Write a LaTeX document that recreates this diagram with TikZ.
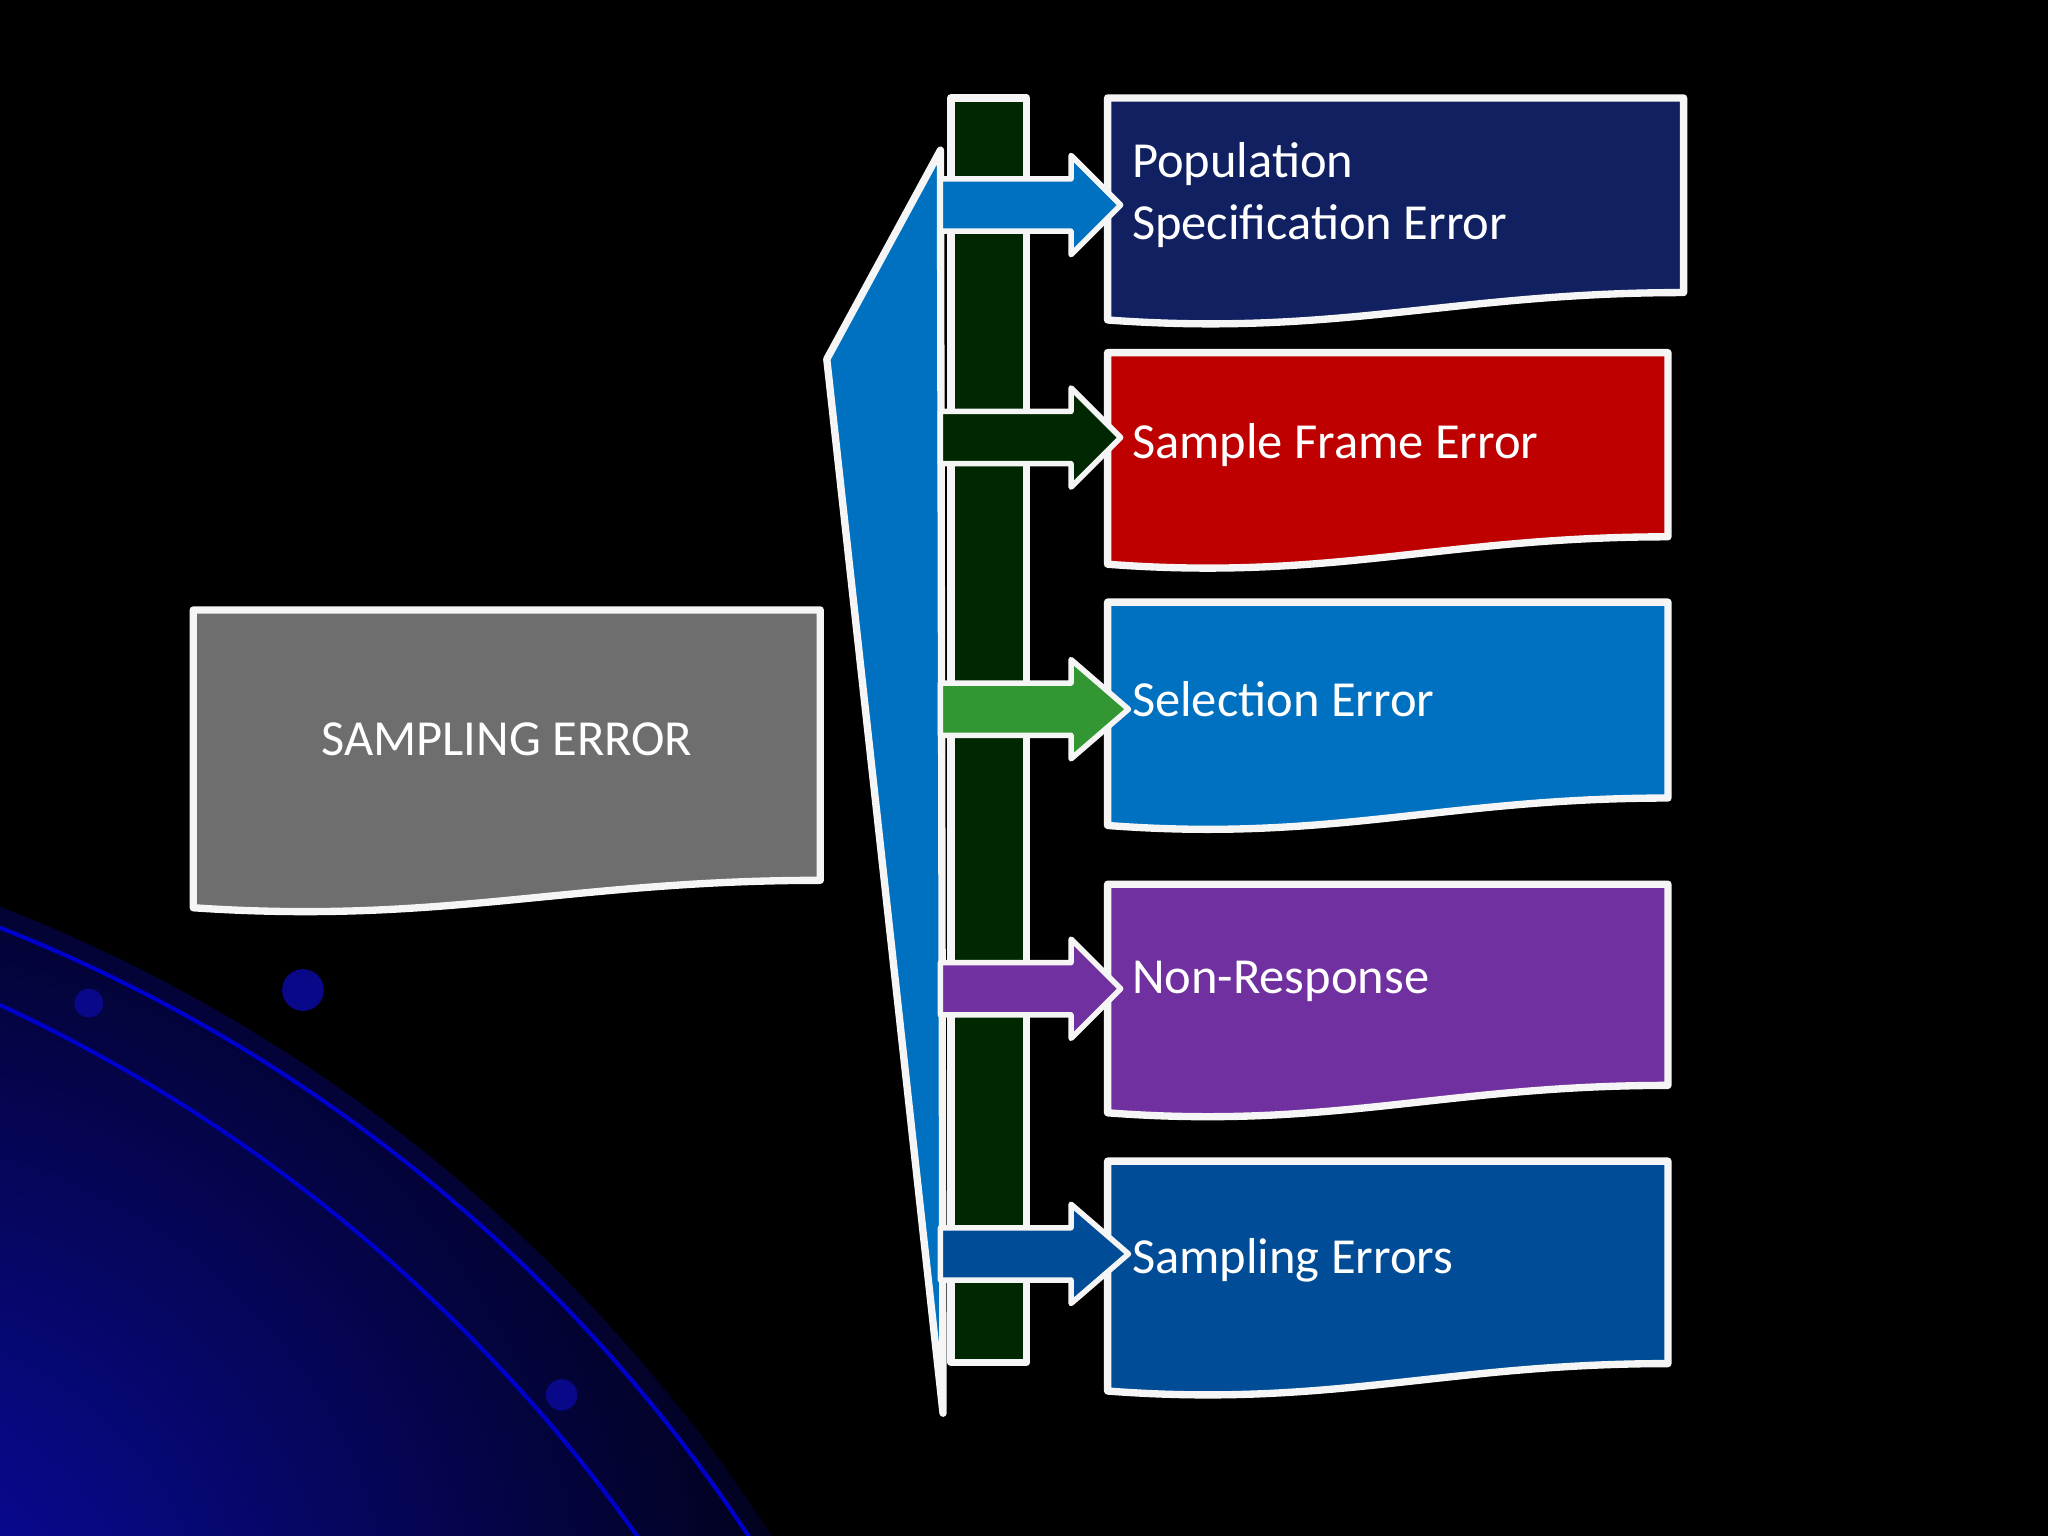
\documentclass[tikz,border=0pt]{standalone}
\usepackage{fontspec}
\setmainfont{Carlito}
\begin{document}
\begin{tikzpicture}[x=1cm,y=-1cm]
\definecolor{bgblue}{RGB}{10,10,170}
\definecolor{popblue}{RGB}{16,32,96}
\definecolor{framered}{RGB}{190,0,0}
\definecolor{selblue}{RGB}{0,112,192}
\definecolor{nrpurple}{RGB}{112,48,160}
\definecolor{sampblue}{RGB}{0,76,150}
\definecolor{bargreen}{RGB}{0,40,0}
\definecolor{arrgreen}{RGB}{50,150,50}
\definecolor{boxgray}{RGB}{110,110,110}
\tikzset{
  edge/.style={draw=white!92!gray,line width=1.6pt,line join=round},
  label/.style={text=white,font=\fontsize{11}{13.5}\selectfont,align=left,anchor=west,inner sep=0pt},
}
% wavy document box: x1,y1,x2,y2,fill
\newcommand\wavebox[5]{%
  \path[edge,fill=#5] (#1,#2) -- (#3,#2) -- (#3,#4-0.26)
    .. controls (#1+0.6*#3-0.6*#1,#4-0.26) and (#1+0.4*#3-0.4*#1,#4+0.08) .. (#1,#4-0.05) -- cycle;}
% background
\fill[black] (0,0) rectangle (15.68,11.76);
\useasboundingbox (0,0) rectangle (15.68,11.76);
\begin{scope}
  \clip (0,0) rectangle (15.68,11.76);
  \clip (-4.5,18.5) circle (12.4);
  \shade[inner color=bgblue,outer color=black] (-1,12.8) circle (8.5);
\end{scope}
\begin{scope}
  \clip (0,0) rectangle (15.68,11.76);
  \draw[blue!80!black,line width=0.9pt] (-4.5,18.5) circle (12.25);
  \draw[blue!80!black,line width=0.9pt] (-5.2,18.9) circle (12.35);
\end{scope}
\fill[bgblue!80!black] (2.32,7.58) circle (0.16);
\fill[bgblue!80!black] (0.68,7.68) circle (0.11);
\fill[bgblue!80!black] (4.30,10.68) circle (0.12);
% left box
\wavebox{1.48}{4.67}{6.28}{7.0}{boxgray}
\node[text=white,font=\fontsize{11}{13.5}\selectfont] (se) at (3.88,5.66) {SAMPLING ERROR};
% wedge
\path[edge,fill=selblue] (7.2,1.15) -- (6.33,2.75) -- (7.22,10.82) -- cycle;
% bar
\path[edge,fill=bargreen] (7.28,0.75) rectangle (7.86,10.43);
% boxes
\wavebox{8.48}{0.75}{12.89}{2.5}{popblue}
\wavebox{8.48}{2.70}{12.77}{4.37}{framered}
\wavebox{8.48}{4.61}{12.77}{6.37}{selblue}
\wavebox{8.48}{6.77}{12.77}{8.57}{nrpurple}
\wavebox{8.48}{8.89}{12.77}{10.70}{sampblue}
\node[label] (pop) at (8.66,1.49) {Population\\Specification Error};
\node[label] (frame) at (8.66,3.41) {Sample Frame Error};
\node[label] (sel) at (8.66,5.35) {Selection Error};
\node[label] (nr) at (8.66,7.51) {Non-Response};
\node[label] (samp) at (8.66,9.65) {Sampling Errors};
% arrows
\newcommand\bigarrow[3]{%
  \path[edge,line width=1.2pt,fill=#3] (7.2,#1-0.2) -- (8.2,#1-0.2) -- (8.2,#1-0.38)
    -- (#2,#1) -- (8.2,#1+0.38) -- (8.2,#1+0.2) -- (7.2,#1+0.2) -- cycle;}
\bigarrow{1.57}{8.58}{selblue}
\bigarrow{3.35}{8.58}{bargreen}
\bigarrow{5.43}{8.64}{arrgreen}
\bigarrow{7.57}{8.58}{nrpurple}
\bigarrow{9.60}{8.64}{sampblue}
\end{tikzpicture}
\end{document}
